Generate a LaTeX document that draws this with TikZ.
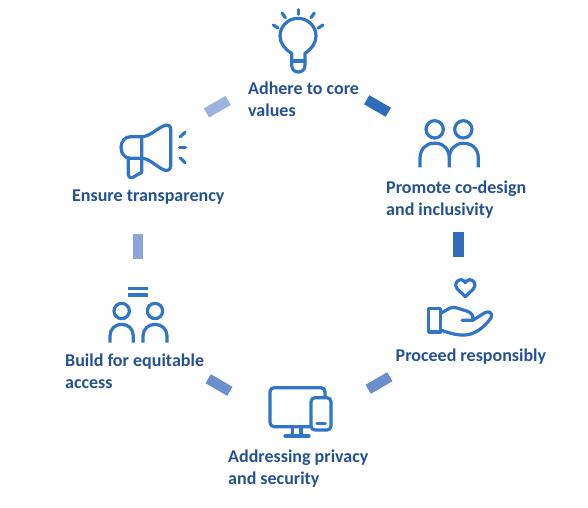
\documentclass[tikz,border=0pt]{standalone}
\usepackage{fontspec}
\setmainfont{Carlito}
\definecolor{txt}{HTML}{24528F}
\definecolor{ico}{HTML}{3076C4}
\definecolor{barA}{HTML}{2F6DB8}
\definecolor{barB}{HTML}{6A8FCB}
\definecolor{barC}{HTML}{8CA5D8}
\definecolor{barD}{HTML}{9DB2DC}
\tikzset{
  lbl/.style={anchor=west,inner sep=0pt,align=left,text=txt,font=\fontsize{18}{22}\selectfont\bfseries},
  icon/.style={draw=ico,line width=3.2pt,line cap=round,line join=round},
  flat/.style={line cap=butt},
  bar/.style={minimum width=25pt,minimum height=10.5pt,inner sep=0pt,outer sep=0pt},
  z/.style={x=0.33333pt,y=-0.33333pt,shift={(#1)}}
}
\begin{document}
\begin{tikzpicture}[x=1pt,y=-1pt]
\useasboundingbox (0,0) rectangle (588,507);
% labels
\node[lbl] (adhere) at (248,99.5) {Adhere to core\\values};
\node[lbl] (promote) at (386,199.5) {Promote co-design\\and inclusivity};
\node[lbl] (proceed) at (395.5,357) {Proceed responsibly};
\node[lbl] (privacy) at (228,468.5) {Addressing privacy\\and security};
\node[lbl] (equit) at (65,371.5) {Build for equitable\\access};
\node[lbl] (transp) at (72,197) {Ensure transparency};
% bars
\node[bar,fill=barA,rotate=-30] (b1) at (377.5,106) {};
\node[bar,fill=barA,rotate=90] (b2) at (458.5,244.5) {};
\node[bar,fill=barB,rotate=30] (b3) at (379,383) {};
\node[bar,fill=barB,rotate=-30] (b4) at (219,385) {};
\node[bar,fill=barC,rotate=90] (b5) at (138,246.5) {};
\node[bar,fill=barD,rotate=30] (b6) at (217.3,106.7) {};
% bulb
\begin{scope}[z={240pt,0pt}]
\draw[icon] (155,160) .. controls (135,148) and (120,130) .. (120,108)
  .. controls (120,78) and (145,55) .. (174,55)
  .. controls (203,55) and (228,78) .. (228,108)
  .. controls (228,130) and (213,148) .. (195,160)
  -- (195,195) .. controls (195,208) and (187,216) .. (175,216)
  .. controls (163,216) and (155,208) .. (155,195) -- cycle;
\draw[icon] (155,183) -- (195,183);
\draw[icon] (175,29) -- (175,43);
\draw[icon] (126,39) -- (136,53);
\draw[icon] (223,39) -- (213,53);
\draw[icon] (100,75) -- (114,84);
\draw[icon] (249,75) -- (235,84);
\end{scope}
% megaphone
\begin{scope}[z={100pt,-90pt}]
\draw[icon] (125,140) -- (92,140) .. controls (74,140) and (63,155) .. (63,172)
  .. controls (63,190) and (74,205) .. (92,205) -- (125,205)
  .. controls (150,205) and (170,232) .. (195,241)
  .. controls (205,243) and (212,237) .. (212,228)
  -- (212,118) .. controls (212,108) and (205,103) .. (195,106)
  .. controls (170,115) and (150,140) .. (125,140) -- cycle;
\draw[icon] (125,140) -- (125,247) -- (97,263)
  .. controls (90,265) and (85,260) .. (85,254) -- (85,205);
\draw[icon] (241,140) -- (255,127);
\draw[icon] (239,172) -- (257,172);
\draw[icon] (241,204) -- (255,218);
\end{scope}
% two people, joined
\begin{scope}[z={400pt,-110pt}]
\draw[icon] (104,58) circle [radius=26];
\draw[icon] (190,58) circle [radius=26];
\draw[icon,flat] (60,172) -- (60,145) .. controls (60,118) and (78,100) .. (100,100)
  -- (108,100) .. controls (132,100) and (148,120) .. (148,145) -- (148,172);
\draw[icon,flat] (148,145) .. controls (148,120) and (165,100) .. (188,100)
  -- (192,100) .. controls (218,100) and (235,118) .. (235,145) -- (235,172);
\end{scope}
% hand and heart
\begin{scope}[z={410pt,-270pt}]
\draw[icon] (166,80) -- (142,57) .. controls (130,42) and (142,29) .. (153,29)
  .. controls (159,29) and (163,33) .. (166,38)
  .. controls (169,33) and (173,29) .. (179,29)
  .. controls (190,29) and (202,42) .. (190,57) -- cycle;
\draw[icon] (56,115) rectangle (92,186);
\draw[icon] (92,130) -- (120,114) .. controls (135,108) and (150,118) .. (170,123)
  .. controls (185,127) and (192,140) .. (188,151) -- (156,151);
\draw[icon] (188,151) -- (225,128) .. controls (238,120) and (250,132) .. (243,143)
  .. controls (232,160) and (212,180) .. (190,189)
  .. controls (165,200) and (135,196) .. (92,180);
\end{scope}
% equal people
\begin{scope}[z={95pt,-275pt}]
\draw[icon,flat] (100,40) -- (159,40);
\draw[icon,flat] (100,60) -- (159,60);
\draw[icon] (80,108) circle [radius=23];
\draw[icon] (180,108) circle [radius=23];
\draw[icon,flat] (45,203) -- (45,183) .. controls (45,162) and (60,148) .. (80,148)
  .. controls (100,148) and (115,162) .. (115,183) -- (115,203);
\draw[icon,flat] (144,203) -- (144,183) .. controls (144,162) and (160,148) .. (180,148)
  .. controls (200,148) and (216,162) .. (216,183) -- (216,203);
\end{scope}
% monitor and phone
\begin{scope}[z={255pt,-375pt}]
\draw[icon] (166,155) -- (58,155) .. controls (50,155) and (45,150) .. (45,142)
  -- (45,51) .. controls (45,43) and (50,38) .. (58,38)
  -- (197,38) .. controls (205,38) and (210,43) .. (210,51) -- (210,66);
\draw[icon] (112,155) -- (112,183);
\draw[icon] (138,155) -- (138,183);
\draw[icon] (90,183) -- (162,183);
\draw[icon,rounded corners=4pt] (168,68) rectangle (228,165);
\draw[icon] (186,145) -- (211,145);
\end{scope}
\end{tikzpicture}
\end{document}
